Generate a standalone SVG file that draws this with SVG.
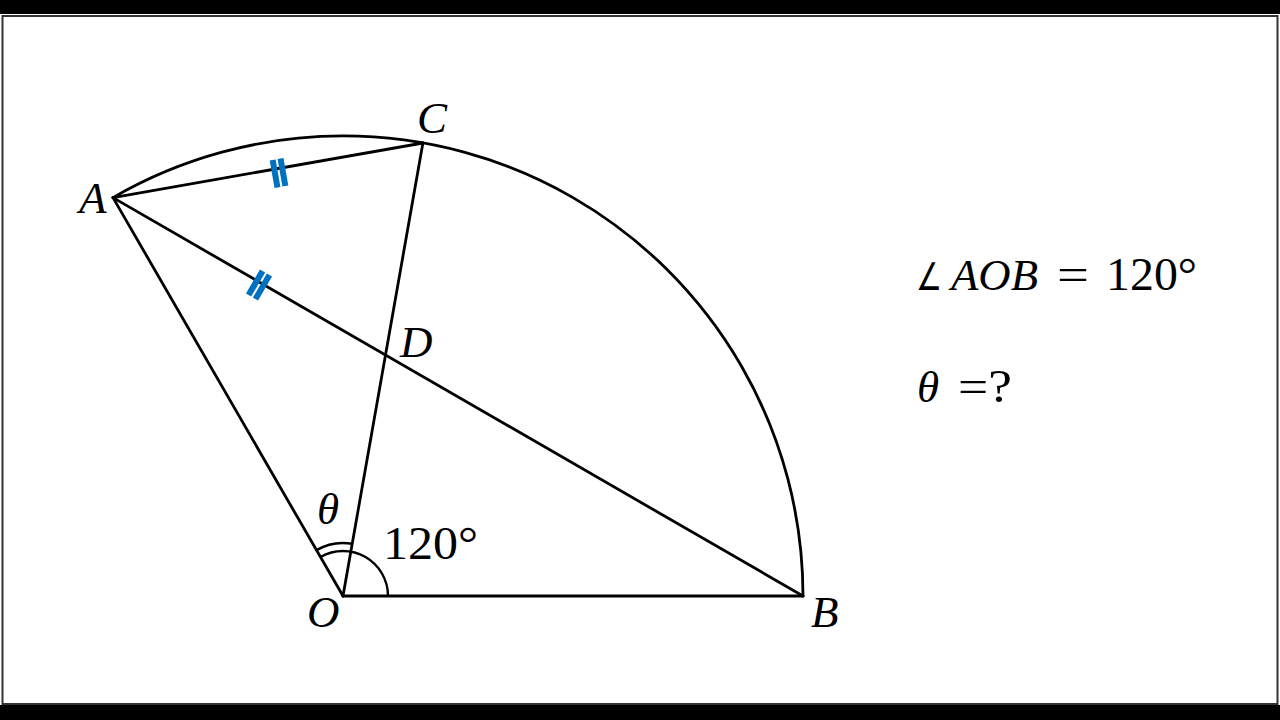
<svg xmlns="http://www.w3.org/2000/svg" width="1280" height="720" viewBox="0 0 1280 720">
<style>
.ln{fill:none;stroke:#000;stroke-width:2.8;stroke-linecap:round;stroke-linejoin:round}
.ar{fill:none;stroke:#000;stroke-width:2.4}
.tk{stroke:#0070C0;stroke-width:6}
.lbl{font-family:"Liberation Serif","DejaVu Serif",serif;font-style:italic;font-size:45px;fill:#000}
.num{font-family:"Liberation Serif","DejaVu Serif",serif;font-size:46px;fill:#000}
.sym{font-family:"DejaVu Sans",sans-serif;font-size:38px;fill:#000}
</style>
<rect x="0" y="0" width="1280" height="720" fill="#fff"/>
<rect x="0" y="0" width="1280" height="14" fill="#000"/>
<rect x="0" y="705" width="1280" height="15" fill="#000"/>
<rect x="2.5" y="16" width="1275" height="688" fill="none" stroke="#333" stroke-width="2"/>
<g id="connectors">
<path class="ln" d="M113,197.6 A460,460 0 0 1 803,596"/>
<line class="ln" x1="343" y1="596" x2="803" y2="596"/>
<line class="ln" x1="343" y1="596" x2="113" y2="197.6"/>
<line class="ln" x1="343" y1="596" x2="422.9" y2="143"/>
<line class="ln" x1="113" y1="197.6" x2="803" y2="596"/>
<line class="ln" x1="113" y1="197.6" x2="422.9" y2="143"/>
</g>
<g id="angles">
<path class="ar" d="M388,596 A45,45 0 0 0 320.5,557"/>
<path class="ar" d="M352.2,543.8 A53,53 0 0 0 316.5,550.1"/>
</g>
<g id="ticks">
<g transform="translate(279,173) rotate(-9.9)">
<line class="tk" x1="-4" y1="-14" x2="-4" y2="14"/>
<line class="tk" x1="4" y1="-14" x2="4" y2="14"/>
</g>
<g transform="translate(259,285) rotate(30)">
<line class="tk" x1="-4" y1="-14" x2="-4" y2="14"/>
<line class="tk" x1="4" y1="-14" x2="4" y2="14"/>
</g>
</g>
<g id="A"><text class="lbl" x="79" y="213">A</text></g>
<g id="C"><text class="lbl" x="417" y="133">C</text></g>
<g id="D"><text class="lbl" x="400" y="357">D</text></g>
<g id="O"><text class="lbl" x="307" y="627">O</text></g>
<g id="B"><text class="lbl" x="811" y="627">B</text></g>
<g id="theta"><text class="lbl" x="317" y="524">θ</text></g>
<g id="angle120"><text class="num" x="383" y="559" textLength="95" lengthAdjust="spacingAndGlyphs">120°</text></g>
<g id="given">
<text class="sym" x="916" y="290" textLength="26" lengthAdjust="spacingAndGlyphs">∠</text>
<text class="lbl" x="951" y="290" textLength="87" lengthAdjust="spacingAndGlyphs">AOB</text>
<text class="num" x="1057" y="290" textLength="32" lengthAdjust="spacingAndGlyphs">=</text>
<text class="num" x="1106" y="290" textLength="91" lengthAdjust="spacingAndGlyphs">120°</text>
</g>
<g id="question">
<text class="lbl" x="917" y="402">θ</text>
<text class="num" x="958" y="402" textLength="54" lengthAdjust="spacingAndGlyphs">=?</text>
</g>
</svg>
